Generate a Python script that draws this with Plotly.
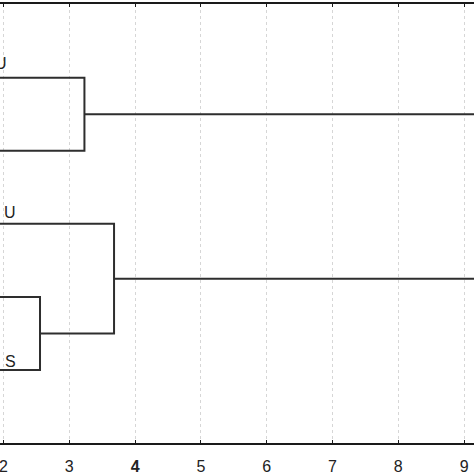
import plotly.graph_objects as go

# Dendrogram data (distances)
leaf_labels = ["U", "", "U", "", "S"]          # visible (cropped) leaf labels
leaf_pos = [0, 1, 2, 3, 4]
# merges: (left node, right node, height); nodes 0-4 are leaves, 5+ are clusters
merges = [
    (0, 1, 3.23),
    (3, 4, 2.555),
    (2, 6, 3.68),
    (5, 7, 9.6),
]
leaf_height = 0.0
tick_values = [2, 3, 4, 5, 6, 7, 8, 9]
tick_text = ["2", "3", "<b>4</b>", "5", "6", "7", "8", "9"]

# compute node positions
node_y = {i: p for i, p in enumerate(leaf_pos)}
node_h = {i: leaf_height for i in range(len(leaf_pos))}
xs, ys = [], []
for k, (a, b, h) in enumerate(merges):
    nid = len(leaf_pos) + k
    xs += [node_h[a], h, h, node_h[b], None]
    ys += [node_y[a], node_y[a], node_y[b], node_y[b], None]
    node_y[nid] = (node_y[a] + node_y[b]) / 2
    node_h[nid] = h

fig = go.Figure()
fig.add_trace(go.Scatter(x=xs, y=ys, mode="lines",
                         line=dict(color="#2e2e2e", width=2),
                         hoverinfo="skip", showlegend=False))

label_x = [1.962, 2.10, 2.10]
label_y = [-0.19, 1.85, 3.88]
label_t = [leaf_labels[0], leaf_labels[2], leaf_labels[4]]
for x, y, t in zip(label_x, label_y, label_t):
    fig.add_annotation(x=x, y=y, text=t, showarrow=False,
                       font=dict(family="Liberation Sans, Arial", size=16, color="#222"))

tick_font = dict(family="Liberation Sans, Arial", size=16, color="#222")
# first tick label sits on the left edge (plotly drops clipped tick labels)
fig.add_annotation(x=tick_values[0], xref="x", y=0, yref="paper", yanchor="top",
                   yshift=-13, text=tick_text[0], showarrow=False, font=tick_font)

fig.update_layout(
    width=474, height=474,
    margin=dict(l=0, r=0, t=4, b=31),
    plot_bgcolor="white", paper_bgcolor="white",
    xaxis=dict(range=[1.947, 9.15], tickvals=tick_values, ticktext=tick_text,
               showline=True, linecolor="#1a1a1a", linewidth=2, mirror="ticks",
               ticks="inside", ticklen=3, tickcolor="#1a1a1a", tickwidth=1,
               showgrid=True, gridcolor="#d6d6d6", griddash="dot", gridwidth=1,
               zeroline=False, ticklabelstandoff=8, tickfont=tick_font),
    yaxis=dict(range=[5.0, -1.01], showticklabels=False, showgrid=False,
               zeroline=False, showline=False, ticks=""),
)
fig.write_html("out.html", config={"displayModeBar": False},
               post_script="document.body.style.margin='0';document.body.style.overflow='hidden';")
